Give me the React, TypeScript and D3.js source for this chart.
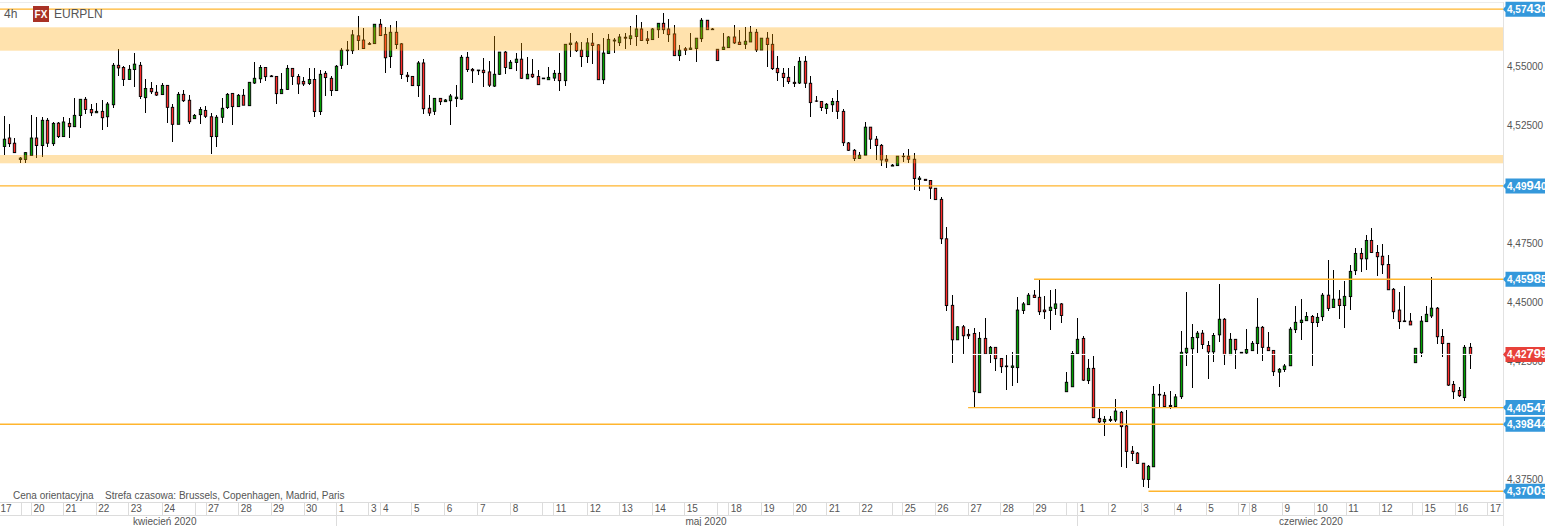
import * as d3 from "d3";
import React, { useEffect, useRef } from "react";

const opens = [
  4.5161, 4.5197, 4.5175, 4.5106, 4.5106, 4.5123, 4.5197, 4.5165, 4.5272, 4.5173,
  4.5260, 4.5203, 4.5259, 4.5245, 4.5292, 4.5361, 4.5318, 4.5304, 4.5310, 4.5287,
  4.5338, 4.5505, 4.5496, 4.5445, 4.5487, 4.5505, 4.5368, 4.5407, 4.5391, 4.5381,
  4.5420, 4.5327, 4.5255, 4.5382, 4.5357, 4.5279, 4.5296, 4.5314, 4.5287, 4.5203,
  4.5285, 4.5326, 4.5386, 4.5330, 4.5378, 4.5334, 4.5430, 4.5448, 4.5496, 4.5460,
  4.5458, 4.5385, 4.5403, 4.5492, 4.5458, 4.5437, 4.5428, 4.5445, 4.5309, 4.5471,
  4.5450, 4.5398, 4.5505, 4.5570, 4.5567, 4.5630, 4.5612, 4.5597, 4.5597, 4.5679,
  4.5636, 4.5542, 4.5645, 4.5596, 4.5463, 4.5458, 4.5419, 4.5515, 4.5323, 4.5310,
  4.5365, 4.5351, 4.5355, 4.5364, 4.5362, 4.5539, 4.5488, 4.5485, 4.5484, 4.5477,
  4.5417, 4.5467, 4.5561, 4.5491, 4.5517, 4.5531, 4.5448, 4.5467, 4.5458, 4.5451,
  4.5444, 4.5451, 4.5471, 4.5440, 4.5593, 4.5600, 4.5569, 4.5542, 4.5599, 4.5592,
  4.5444, 4.5555, 4.5608, 4.5601, 4.5624, 4.5618, 4.5627, 4.5659, 4.5617, 4.5614,
  4.5656, 4.5683, 4.5659, 4.5638, 4.5546, 4.5575, 4.5572, 4.5576, 4.5618, 4.5696,
  4.5659, 4.5573, 4.5572, 4.5580, 4.5625, 4.5603, 4.5594, 4.5604, 4.5645, 4.5570,
  4.5620, 4.5594, 4.5492, 4.5471, 4.5454, 4.5433, 4.5430, 4.5522, 4.5429, 4.5354,
  4.5352, 4.5322, 4.5338, 4.5352, 4.5310, 4.5176, 4.5145, 4.5110, 4.5124, 4.5243,
  4.5192, 4.5166, 4.5107, 4.5078, 4.5080, 4.5120, 4.5120, 4.5107, 4.5021, 4.5022,
  4.5017, 4.4984, 4.4937, 4.4770, 4.4488, 4.4342, 4.4397, 4.4365, 4.4369, 4.4118,
  4.4348, 4.4282, 4.4310, 4.4263, 4.4231, 4.4225, 4.4224, 4.4466, 4.4491, 4.4531,
  4.4522, 4.4468, 4.4466, 4.4475, 4.4494, 4.4122, 4.4143, 4.4283, 4.4348, 4.4169,
  4.4221, 4.4009, 4.3995, 4.4000, 4.4002, 4.4035, 4.3977, 4.3870, 4.3862, 4.3819,
  4.3750, 4.3804, 4.4108, 4.4107, 4.4064, 4.4059, 4.4101, 4.4287, 4.4304, 4.4351,
  4.4370, 4.4318, 4.4291, 4.4363, 4.4429, 4.4279, 4.4344, 4.4289, 4.4286, 4.4296,
  4.4326, 4.4395, 4.4310, 4.4297, 4.4205, 4.4216, 4.4232, 4.4385, 4.4415, 4.4423,
  4.4441, 4.4415, 4.4440, 4.4531, 4.4479, 4.4514, 4.4487, 4.4525, 4.4635, 4.4708,
  4.4685, 4.4763, 4.4712, 4.4696, 4.4661, 4.4556, 4.4468, 4.4422, 4.4421, 4.4245,
  4.4287, 4.4419, 4.4443, 4.4476, 4.4356, 4.4327, 4.4153, 4.4127, 4.4097, 4.4310,
];

const closes = [
  4.5192, 4.5173, 4.5135, 4.5112, 4.5135, 4.5197, 4.5165, 4.5272, 4.5175, 4.5259,
  4.5203, 4.5265, 4.5245, 4.5293, 4.5361, 4.5318, 4.5304, 4.5310, 4.5283, 4.5341,
  4.5505, 4.5494, 4.5445, 4.5488, 4.5510, 4.5373, 4.5407, 4.5393, 4.5379, 4.5420,
  4.5327, 4.5255, 4.5382, 4.5355, 4.5266, 4.5293, 4.5318, 4.5289, 4.5203, 4.5285,
  4.5323, 4.5382, 4.5330, 4.5378, 4.5336, 4.5433, 4.5450, 4.5496, 4.5457, 4.5457,
  4.5385, 4.5403, 4.5492, 4.5458, 4.5426, 4.5426, 4.5445, 4.5309, 4.5467, 4.5453,
  4.5398, 4.5501, 4.5569, 4.5567, 4.5634, 4.5610, 4.5576, 4.5594, 4.5679, 4.5631,
  4.5537, 4.5645, 4.5593, 4.5466, 4.5457, 4.5419, 4.5515, 4.5321, 4.5303, 4.5365,
  4.5351, 4.5358, 4.5375, 4.5370, 4.5539, 4.5487, 4.5482, 4.5482, 4.5474, 4.5421,
  4.5467, 4.5561, 4.5496, 4.5518, 4.5531, 4.5450, 4.5467, 4.5456, 4.5423, 4.5448,
  4.5454, 4.5471, 4.5440, 4.5594, 4.5599, 4.5567, 4.5542, 4.5600, 4.5589, 4.5444,
  4.5557, 4.5615, 4.5612, 4.5625, 4.5620, 4.5630, 4.5659, 4.5610, 4.5610, 4.5659,
  4.5683, 4.5656, 4.5635, 4.5546, 4.5569, 4.5569, 4.5578, 4.5620, 4.5696, 4.5656,
  4.5656, 4.5525, 4.5582, 4.5625, 4.5600, 4.5593, 4.5607, 4.5645, 4.5570, 4.5620,
  4.5593, 4.5491, 4.5474, 4.5453, 4.5436, 4.5428, 4.5522, 4.5429, 4.5347, 4.5353,
  4.5326, 4.5340, 4.5352, 4.5310, 4.5177, 4.5145, 4.5110, 4.5124, 4.5243, 4.5192,
  4.5165, 4.5104, 4.5099, 4.5082, 4.5120, 4.5118, 4.5107, 4.5025, 4.5027, 4.5017,
  4.4984, 4.4936, 4.4770, 4.4487, 4.4342, 4.4397, 4.4359, 4.4359, 4.4122, 4.4348,
  4.4282, 4.4310, 4.4262, 4.4228, 4.4228, 4.4231, 4.4468, 4.4494, 4.4531, 4.4521,
  4.4461, 4.4461, 4.4480, 4.4494, 4.4445, 4.4162, 4.4284, 4.4344, 4.4171, 4.4221,
  4.4012, 4.3994, 4.4005, 4.4005, 4.4040, 4.3974, 4.3869, 4.3860, 4.3818, 4.3751,
  4.3806, 4.4111, 4.4111, 4.4059, 4.4059, 4.4100, 4.4289, 4.4306, 4.4352, 4.4370,
  4.4322, 4.4291, 4.4360, 4.4429, 4.4279, 4.4344, 4.4300, 4.4286, 4.4301, 4.4327,
  4.4395, 4.4310, 4.4296, 4.4207, 4.4217, 4.4231, 4.4387, 4.4416, 4.4425, 4.4441,
  4.4415, 4.4437, 4.4531, 4.4475, 4.4514, 4.4487, 4.4526, 4.4632, 4.4708, 4.4685,
  4.4763, 4.4712, 4.4694, 4.4660, 4.4554, 4.4461, 4.4419, 4.4419, 4.4405, 4.4306,
  4.4421, 4.4450, 4.4476, 4.4355, 4.4326, 4.4150, 4.4122, 4.4105, 4.4310, 4.4279,
];

const highs = [
  4.5290, 4.5256, 4.5197, 4.5117, 4.5139, 4.5293, 4.5286, 4.5287, 4.5280, 4.5266,
  4.5266, 4.5285, 4.5280, 4.5366, 4.5362, 4.5369, 4.5342, 4.5345, 4.5358, 4.5350,
  4.5514, 4.5573, 4.5503, 4.5505, 4.5558, 4.5520, 4.5445, 4.5434, 4.5421, 4.5428,
  4.5421, 4.5341, 4.5390, 4.5400, 4.5381, 4.5297, 4.5327, 4.5333, 4.5302, 4.5293,
  4.5366, 4.5389, 4.5389, 4.5383, 4.5404, 4.5433, 4.5520, 4.5505, 4.5496, 4.5462,
  4.5460, 4.5472, 4.5507, 4.5492, 4.5468, 4.5454, 4.5492, 4.5492, 4.5484, 4.5482,
  4.5458, 4.5505, 4.5578, 4.5607, 4.5655, 4.5714, 4.5663, 4.5603, 4.5680, 4.5702,
  4.5666, 4.5676, 4.5693, 4.5599, 4.5475, 4.5461, 4.5523, 4.5531, 4.5379, 4.5365,
  4.5365, 4.5362, 4.5382, 4.5421, 4.5548, 4.5563, 4.5493, 4.5485, 4.5537, 4.5524,
  4.5630, 4.5562, 4.5565, 4.5526, 4.5559, 4.5600, 4.5541, 4.5532, 4.5485, 4.5451,
  4.5498, 4.5485, 4.5556, 4.5595, 4.5642, 4.5606, 4.5602, 4.5619, 4.5642, 4.5596,
  4.5620, 4.5638, 4.5620, 4.5638, 4.5641, 4.5672, 4.5719, 4.5688, 4.5651, 4.5663,
  4.5683, 4.5726, 4.5702, 4.5676, 4.5590, 4.5583, 4.5642, 4.5620, 4.5704, 4.5696,
  4.5662, 4.5573, 4.5642, 4.5628, 4.5676, 4.5654, 4.5666, 4.5671, 4.5659, 4.5620,
  4.5645, 4.5638, 4.5545, 4.5492, 4.5492, 4.5503, 4.5542, 4.5543, 4.5458, 4.5374,
  4.5352, 4.5345, 4.5365, 4.5400, 4.5320, 4.5180, 4.5149, 4.5136, 4.5265, 4.5244,
  4.5206, 4.5171, 4.5126, 4.5087, 4.5121, 4.5135, 4.5149, 4.5132, 4.5035, 4.5022,
  4.5020, 4.4984, 4.4947, 4.4820, 4.4532, 4.4401, 4.4405, 4.4387, 4.4391, 4.4375,
  4.4433, 4.4317, 4.4310, 4.4263, 4.4277, 4.4289, 4.4524, 4.4501, 4.4539, 4.4553,
  4.4596, 4.4527, 4.4553, 4.4557, 4.4498, 4.4205, 4.4294, 4.4433, 4.4359, 4.4260,
  4.4272, 4.4048, 4.4019, 4.4021, 4.4091, 4.4040, 4.4045, 4.3890, 4.3866, 4.3822,
  4.3812, 4.4146, 4.4155, 4.4121, 4.4124, 4.4111, 4.4380, 4.4543, 4.4408, 4.4379,
  4.4383, 4.4338, 4.4369, 4.4579, 4.4436, 4.4370, 4.4344, 4.4290, 4.4388, 4.4335,
  4.4519, 4.4400, 4.4375, 4.4300, 4.4221, 4.4240, 4.4395, 4.4486, 4.4515, 4.4460,
  4.4446, 4.4454, 4.4539, 4.4680, 4.4638, 4.4553, 4.4591, 4.4659, 4.4731, 4.4730,
  4.4786, 4.4816, 4.4744, 4.4748, 4.4701, 4.4563, 4.4543, 4.4570, 4.4454, 4.4306,
  4.4443, 4.4486, 4.4608, 4.4480, 4.4387, 4.4327, 4.4167, 4.4140, 4.4322, 4.4328,
];

const lows = [
  4.5125, 4.5161, 4.5135, 4.5090, 4.5093, 4.5123, 4.5114, 4.5118, 4.5161, 4.5165,
  4.5199, 4.5202, 4.5197, 4.5244, 4.5240, 4.5299, 4.5290, 4.5303, 4.5232, 4.5244,
  4.5326, 4.5460, 4.5417, 4.5443, 4.5413, 4.5361, 4.5304, 4.5383, 4.5375, 4.5381,
  4.5262, 4.5182, 4.5255, 4.5348, 4.5258, 4.5278, 4.5258, 4.5280, 4.5131, 4.5161,
  4.5259, 4.5322, 4.5252, 4.5330, 4.5336, 4.5334, 4.5426, 4.5430, 4.5440, 4.5457,
  4.5341, 4.5385, 4.5400, 4.5421, 4.5383, 4.5417, 4.5421, 4.5286, 4.5295, 4.5375,
  4.5375, 4.5395, 4.5489, 4.5505, 4.5554, 4.5570, 4.5575, 4.5593, 4.5597, 4.5630,
  4.5474, 4.5495, 4.5575, 4.5448, 4.5436, 4.5417, 4.5371, 4.5300, 4.5292, 4.5296,
  4.5337, 4.5350, 4.5252, 4.5330, 4.5360, 4.5478, 4.5430, 4.5464, 4.5415, 4.5415,
  4.5413, 4.5465, 4.5468, 4.5489, 4.5481, 4.5448, 4.5445, 4.5450, 4.5421, 4.5448,
  4.5443, 4.5440, 4.5398, 4.5417, 4.5541, 4.5561, 4.5498, 4.5513, 4.5511, 4.5444,
  4.5426, 4.5552, 4.5559, 4.5587, 4.5575, 4.5589, 4.5587, 4.5610, 4.5595, 4.5612,
  4.5621, 4.5638, 4.5603, 4.5546, 4.5524, 4.5549, 4.5569, 4.5521, 4.5603, 4.5655,
  4.5656, 4.5526, 4.5570, 4.5580, 4.5597, 4.5589, 4.5575, 4.5603, 4.5561, 4.5570,
  4.5498, 4.5487, 4.5440, 4.5415, 4.5424, 4.5415, 4.5424, 4.5411, 4.5287, 4.5350,
  4.5313, 4.5299, 4.5309, 4.5279, 4.5165, 4.5144, 4.5101, 4.5106, 4.5123, 4.5152,
  4.5104, 4.5080, 4.5068, 4.5078, 4.5080, 4.5096, 4.5089, 4.4977, 4.4974, 4.5017,
  4.4940, 4.4933, 4.4749, 4.4466, 4.4243, 4.4342, 4.4282, 4.4345, 4.4055, 4.4118,
  4.4282, 4.4245, 4.4210, 4.4203, 4.4129, 4.4146, 4.4160, 4.4451, 4.4491, 4.4520,
  4.4447, 4.4430, 4.4383, 4.4447, 4.4415, 4.4122, 4.4143, 4.4283, 4.4169, 4.4156,
  4.4009, 4.3991, 4.3935, 4.3994, 4.3994, 4.3804, 4.3799, 4.3830, 4.3815, 4.3719,
  4.3716, 4.3804, 4.4051, 4.4056, 4.4049, 4.4059, 4.4093, 4.4231, 4.4139, 4.4287,
  4.4303, 4.4177, 4.4246, 4.4332, 4.4235, 4.4279, 4.4218, 4.4286, 4.4283, 4.4293,
  4.4282, 4.4252, 4.4294, 4.4190, 4.4142, 4.4207, 4.4232, 4.4372, 4.4341, 4.4423,
  4.4231, 4.4395, 4.4422, 4.4466, 4.4479, 4.4428, 4.4394, 4.4469, 4.4617, 4.4631,
  4.4638, 4.4711, 4.4614, 4.4620, 4.4551, 4.4430, 4.4388, 4.4419, 4.4403, 4.4245,
  4.4270, 4.4419, 4.4436, 4.4326, 4.4270, 4.4148, 4.4091, 4.4101, 4.4084, 4.4218,
];

// label, position on the bar axis ("" = tick without label)
const dayLabels = ["17", "", "20", "21", "22", "23", "24", "", "27", "28", "29", "30", "1", "3", "4", "5", "6", "7", "8", "", "11", "12", "13", "14", "15", "", "18", "19", "20", "21", "22", "", "25", "26", "27", "28", "29", "", "1", "2", "3", "4", "5", "7", "8", "9", "10", "11", "12", "", "15", "16", "17"];
const dayBars = [-1.1, 3.06, 4.95, 10.82, 16.82, 22.81, 28.9, 34.97, 36.98, 42.98, 48.9, 54.96, 60.95, 66.87, 69.07, 74.76, 80.8, 86.86, 92.9, 98.8, 100.8, 107, 112.9, 118.95, 124.8, 130.9, 132.9, 138.9, 144.8, 150.9, 156.9, 162.96, 164.8, 170.8, 176.9, 182.8, 188.8, 194.9, 196.9, 202.6, 208.6, 214.7, 220.5, 226.4, 228.4, 234.5, 240.4, 246.2, 252.3, 258.3, 260.2, 266.2, 272.2];

const monthLabels = ["kwiecień 2020", "maj 2020", "czerwiec 2020"];
const monthCentres = [29.5, 128.8, 239.8];
const monthBreaks = [60.95, 196.9];

// 4,57500 / 4,50000 / 4,40000 sit fully behind the price flags in the reference
const priceTicks = [4.55, 4.525, 4.475, 4.45, 4.425, 4.375];

const zoneTops = [4.56661, 4.5125];
const zoneBottoms = [4.5567, 4.50898];

const levelPrices = [4.5743, 4.4994, 4.45985, 4.40547, 4.39844, 4.37003];
const levelStarts = [-1, -1, 189, 176.9, -1, 210];
const lastPrice = 4.42799;

const WIDTH = 1548;
const HEIGHT = 526;
const AXIS_X = 1503;
const FONT = "'Liberation Sans', Arial, sans-serif";

export default function App() {
  const ref = useRef<SVGSVGElement>(null);

  useEffect(() => {
    const svg = d3.select(ref.current);
    svg.selectAll("*").remove();

    const x = d3.scaleLinear().domain([0, opens.length - 1]).range([4, 1470.05]);
    const y = d3.scaleLinear().domain([4.575, 4.36547]).range([7.5, 502]);
    const col = (i: number) => Math.floor(x(i)) + 0.5;
    const lineStart = (i: number) => (i < 0 ? 0 : x(i));

    // frame
    svg.append("line").attr("x1", 0).attr("x2", AXIS_X).attr("y1", 2.5).attr("y2", 2.5).attr("stroke", "#ececec");
    svg.append("line").attr("x1", AXIS_X + 0.5).attr("x2", AXIS_X + 0.5).attr("y1", 2).attr("y2", HEIGHT).attr("stroke", "#e2e2e2");

    // price axis
    svg.append("g").selectAll("text").data(priceTicks).enter().append("text")
      .attr("x", 1507).attr("y", d => y(d) + 3.5)
      .attr("font-size", 10).attr("fill", "#555").attr("font-family", FONT)
      .text(d => d.toFixed(5).replace(".", ","));

    // candles
    const candles = svg.append("g");
    const idx = d3.range(opens.length);
    candles.selectAll("line").data(idx).enter().append("line")
      .attr("x1", col).attr("x2", col)
      .attr("y1", i => y(highs[i])).attr("y2", i => y(lows[i]))
      .attr("stroke", "#000").attr("shape-rendering", "crispEdges");
    candles.selectAll("rect").data(idx).enter().append("rect")
      .attr("x", i => col(i) - 1.2).attr("width", 2.4)
      .attr("y", i => y(Math.max(opens[i], closes[i])))
      .attr("height", i => Math.abs(y(opens[i]) - y(closes[i])))
      .attr("fill", i => (closes[i] >= opens[i] ? "#00a000" : "#ff2a2a"))
      .attr("stroke", "#000").attr("stroke-width", 0.9);

    // zones sit over the candles
    svg.append("g").selectAll("rect").data(zoneTops).enter().append("rect")
      .attr("x", 0).attr("width", AXIS_X)
      .attr("y", d => y(d))
      .attr("height", (d, i) => y(zoneBottoms[i]) - y(d))
      .attr("fill", "#ffa500").attr("opacity", 0.32);

    // white mark of the last price
    svg.append("line").attr("x1", 0).attr("x2", AXIS_X).attr("y1", y(lastPrice)).attr("y2", y(lastPrice))
      .attr("stroke", "#fff").attr("stroke-width", 1);

    // levels
    svg.append("g").selectAll("line").data(levelPrices).enter().append("line")
      .attr("x1", (d, i) => lineStart(levelStarts[i])).attr("x2", AXIS_X)
      .attr("y1", d => y(d)).attr("y2", d => y(d))
      .attr("stroke", "#ffb52e").attr("stroke-width", 1.4);

    // time axis
    svg.append("rect").attr("x", 0).attr("y", 502).attr("width", AXIS_X).attr("height", 24).attr("fill", "#fff");
    const axis = svg.append("g").attr("font-family", FONT).attr("font-size", 10).attr("fill", "#555");
    axis.append("line").attr("x1", 0).attr("x2", AXIS_X).attr("y1", 502.5).attr("y2", 502.5).attr("stroke", "#dcdcdc");
    axis.append("line").attr("x1", 0).attr("x2", AXIS_X).attr("y1", 515.5).attr("y2", 515.5).attr("stroke", "#dcdcdc");
    axis.selectAll(".day-tick").data(dayBars).enter().append("line").attr("class", "day-tick")
      .attr("x1", d => Math.round(x(d)) + 0.5).attr("x2", d => Math.round(x(d)) + 0.5)
      .attr("y1", 502).attr("y2", 515).attr("stroke", "#dcdcdc");
    axis.selectAll(".day-label").data(dayBars).enter().append("text").attr("class", "day-label")
      .attr("x", d => x(d) + 2.5).attr("y", 512)
      .text((d, i) => dayLabels[i]);
    axis.selectAll(".month-break").data(monthBreaks).enter().append("line").attr("class", "month-break")
      .attr("x1", d => Math.round(x(d)) + 0.5).attr("x2", d => Math.round(x(d)) + 0.5)
      .attr("y1", 516).attr("y2", HEIGHT).attr("stroke", "#dcdcdc");
    axis.selectAll(".month-label").data(monthCentres).enter().append("text").attr("class", "month-label")
      .attr("x", d => x(d)).attr("y", 524.5).attr("text-anchor", "middle")
      .text((d, i) => monthLabels[i]);

    // notes
    const notes = svg.append("g").attr("font-family", FONT).attr("font-size", 10).attr("fill", "#555");
    notes.append("text").attr("x", 13).attr("y", 498.5).text("Cena orientacyjna");
    notes.append("text").attr("x", 105).attr("y", 498.5).text("Strefa czasowa: Brussels, Copenhagen, Madrid, Paris");

    // header
    const head = svg.append("g").attr("font-family", FONT);
    head.append("text").attr("x", 4).attr("y", 18).attr("font-size", 12).attr("fill", "#555").text("4h");
    head.append("rect").attr("x", 33).attr("y", 6).attr("width", 16).attr("height", 16).attr("fill", "#a93226");
    head.append("text").attr("x", 41).attr("y", 17.5).attr("text-anchor", "middle").attr("font-size", 10).attr("font-weight", "bold").attr("fill", "#fff").text("FX");
    head.append("text").attr("x", 54).attr("y", 18).attr("font-size", 12).attr("fill", "#555").text("EURPLN");

    // price flags
    const flagPrices = [...levelPrices, lastPrice];
    const flags = svg.append("g").selectAll("g").data(flagPrices).enter().append("g")
      .attr("transform", d => `translate(0,${y(d)})`);
    const flagColor = (d: number) => (d === lastPrice ? "#e8413a" : "#3498db");
    flags.append("path")
      .attr("d", d3.line()([[1503, 0], [1505.5, -3], [1505.5, -7.5], [1545, -7.5], [1545, 7.5], [1505.5, 7.5], [1505.5, 3]]) + "Z")
      .attr("fill", flagColor);
    const flagText = flags.append("text")
      .attr("x", 1507).attr("y", 4)
      .attr("font-family", FONT).attr("font-weight", "bold").attr("fill", "#fff").attr("font-size", 10);
    flagText.append("tspan").text(d => d.toFixed(5).replace(".", ",").slice(0, 4));
    flagText.append("tspan").attr("font-size", 13).text(d => d.toFixed(5).slice(4, 6));
    flagText.append("tspan").text(d => d.toFixed(5).slice(6));
  }, []);

  return (
    <svg
      ref={ref}
      width={WIDTH}
      height={HEIGHT}
      style={{ position: "absolute", left: 0, top: 0, background: "#fff" }}
    />
  );
}
